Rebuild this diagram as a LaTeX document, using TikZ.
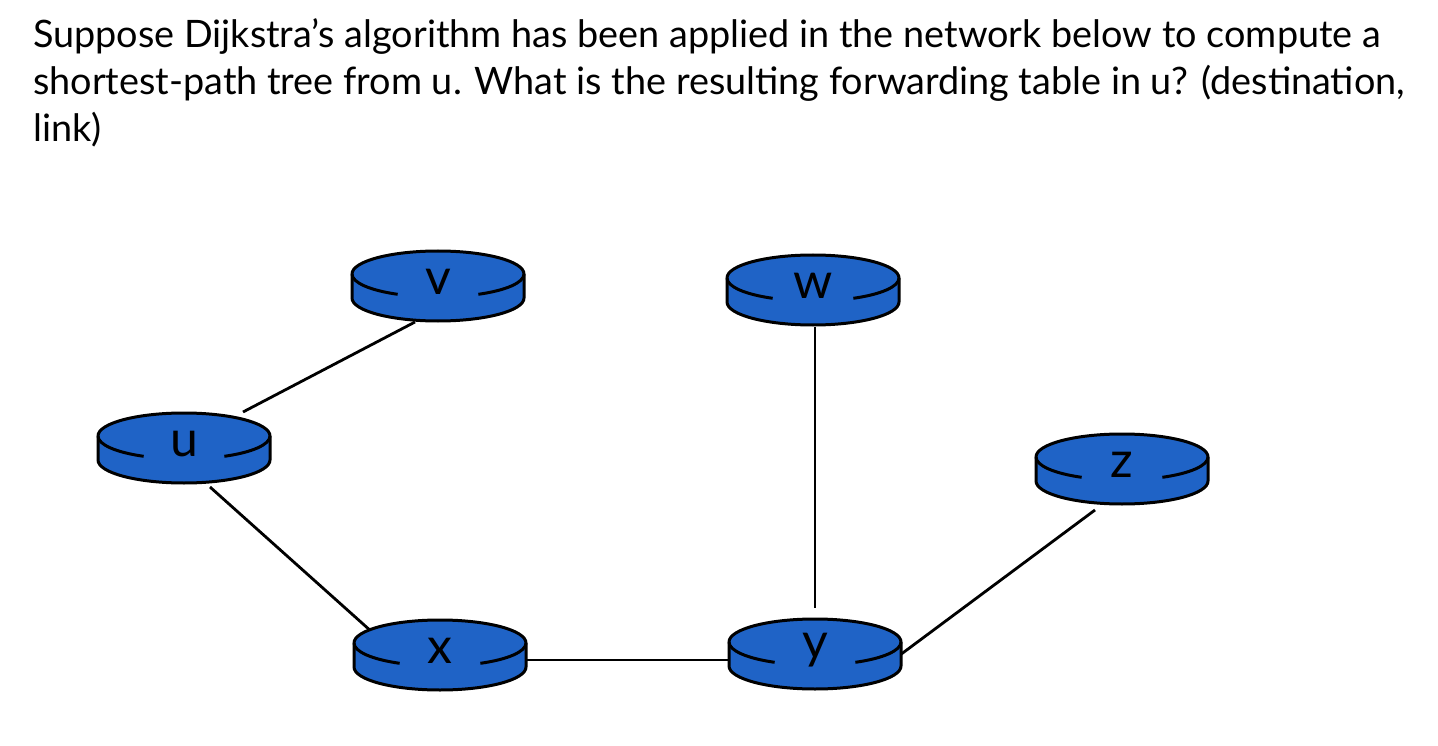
\documentclass[tikz,border=0pt]{standalone}
\usepackage{fontspec}
\setmainfont{Lato}
\usetikzlibrary{shapes.geometric}
\definecolor{rblue}{HTML}{1F63C6}
\tikzset{
  rnode/.style={ellipse,minimum width=175pt,minimum height=74pt,inner sep=0pt},
  link/.style={line width=2.8pt,black},
  rline/.style={line width=3pt,black},
  lbl/.style={font=\fontsize{50}{50}\selectfont,inner sep=0pt},
  ttl/.style={anchor=base west,font=\fontsize{37.8}{38}\selectfont,inner sep=0pt}
}
\newcommand{\myrouter}[4]{%
  \node[rnode] (#1) at (#2,#3) {};
  \begin{scope}[shift={(#2,#3-12)}]
    \filldraw[rline,fill=rblue] (-86,0) -- (-86,24) arc[start angle=180,end angle=0,x radius=86,y radius=23] -- (86,0) arc[start angle=0,end angle=-180,x radius=86,y radius=23] -- cycle;
    \draw[rline] (-86,0) arc[start angle=180,end angle=118,x radius=86,y radius=23];
    \draw[rline] (86,0) arc[start angle=0,end angle=62,x radius=86,y radius=23];
  \end{scope}
  \node[lbl] at (#2,#3-4) {#4};
}
\begin{document}
\begin{tikzpicture}[x=1pt,y=-1pt]
\useasboundingbox (0,0) rectangle (1438,746);
\node[ttl] (t1) at (33,48) {Suppose Dijkstra’s algorithm has been applied in the network below to compute a};
\node[ttl] (t2) at (33,95) {shortest-path tree from u. What is the resulting forwarding table in u? (destination,};
\node[ttl] (t3) at (33,142) {link)};
\draw[link] (243,412) -- (415,322);
\draw[link] (210,487) -- (372,632);
\draw[link] (527,660) -- (730,660);
\draw[link] (815,327) -- (815,608);
\draw[link] (900,655) -- (1095,510);
\myrouter{v}{438}{286}{v}
\myrouter{w}{813}{290}{w}
\myrouter{u}{184}{448}{u}
\myrouter{z}{1122}{469}{z}
\myrouter{x}{440}{655}{x}
\myrouter{y}{815}{654}{y}
\end{tikzpicture}
\end{document}
